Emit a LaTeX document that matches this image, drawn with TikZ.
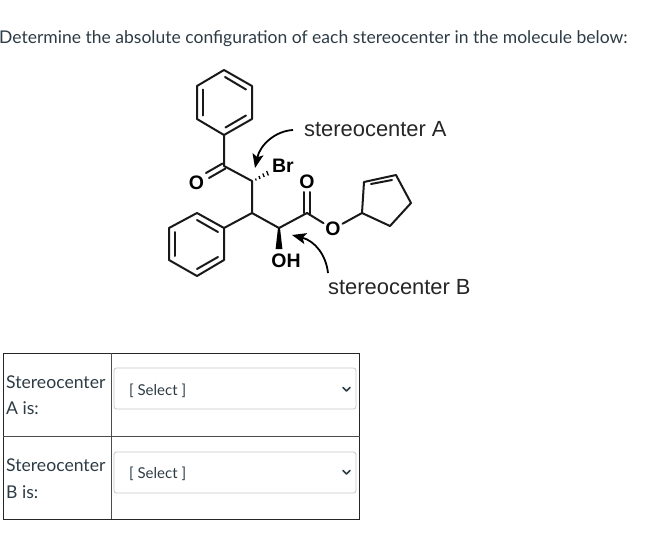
\documentclass[tikz,border=0pt]{standalone}
\usepackage{fontspec}
\setmainfont{Lato}
\newfontfamily\chemfont{Liberation Sans}
\usetikzlibrary{arrows.meta}
\definecolor{ink}{HTML}{2D3B45}
\tikzset{
  x=1pt,y=-1pt,
  bond/.style={line width=2pt,line cap=round,line join=round,black!90},
  atom/.style={font=\chemfont\bfseries\fontsize{19.5}{20}\selectfont,inner sep=0pt,black},
  lab/.style={font=\chemfont\fontsize{21.9}{24}\selectfont,inner sep=0pt,text=black!85,anchor=west},
  curved/.style={line width=1.8pt,black,-{Stealth[length=14pt,width=11pt,inset=3pt]}},
  cell/.style={draw=black!70,line width=0.8pt},
  txt/.style={font=\fontsize{17.6}{20}\selectfont,text=ink,inner sep=0pt,anchor=west},
  sel/.style={draw=black!22,line width=0.8pt,rounded corners=2.5pt},
  seltxt/.style={font=\fontsize{15}{17}\selectfont,text=ink,inner sep=0pt,anchor=west},
  chev/.style={line width=1.6pt,ink,line cap=round,line join=round}
}
\begin{document}
\begin{tikzpicture}
\useasboundingbox (0,0) rectangle (647,543);
\node[font=\fontsize{17.52}{20}\selectfont,text=ink,inner sep=0pt,anchor=west] (title) at (-1,38.5) {Determine the absolute configuration of each stereocenter in the molecule below:};
% top phenyl
\coordinate (t1) at (224,70); \coordinate (t2) at (252,86); \coordinate (t3) at (252,119);
\coordinate (t4) at (224,135); \coordinate (t5) at (197,119); \coordinate (t6) at (197,86);
\draw[bond] (t1)--(t2)--(t3)--(t4)--(t5)--(t6)--cycle;
\draw[bond] (225,77)--(246,89.5);
\draw[bond] (246,115.5)--(225.5,127.5);
\draw[bond] (203,89.5)--(203,115.5);
% chain
\coordinate (co) at (224,166); \coordinate (sa) at (252,181); \coordinate (cb) at (252,213);
\coordinate (sb) at (279,228); \coordinate (ce) at (307,213); \coordinate (cp) at (224,228);
\node[atom] (o1) at (196.5,182.5) {O};
\node[atom] (br) at (283,166) {Br};
\node[atom] (o2) at (307,182) {O};
\node[atom] (o3) at (333,229) {O};
\node[atom] (oh) at (286,261) {OH};
\draw[bond] (t4)--(co)--(sa)--(cb)--(sb)--(ce);
\draw[bond] (cb)--(cp);
\draw[bond] (222.5,163.5)--(206,173);
\draw[bond] (225.5,168.5)--(209,178);
\draw[bond] (304,192)--(304,213);
\draw[bond] (310,192)--(310,215);
\draw[bond,shorten >=2pt] (ce)--(o3);
% lower phenyl
\coordinate (b1) at (224,228); \coordinate (b2) at (197,213); \coordinate (b3) at (169,228);
\coordinate (b4) at (169,260); \coordinate (b5) at (197,276); \coordinate (b6) at (224,260);
\draw[bond] (b1)--(b2)--(b3)--(b4)--(b5)--(b6)--cycle;
\draw[bond] (197,220)--(218,232);
\draw[bond] (175,232)--(175,256);
\draw[bond] (197,269)--(218,257);
% wedges
\fill[black] (278,228) -- (280,228) -- (282.4,249) -- (275.6,249) -- cycle;
\foreach \a/\b/\c/\d in {255.5/178.5/256.2/180.5, 259/176/260/179, 262.8/173.5/264.2/177, 266.6/171/268.4/175.5}
  \draw[black,line width=1.3pt] (\a,\b)--(\c,\d);
% cyclopentene
\coordinate (p1) at (362,213); \coordinate (p2) at (364,182); \coordinate (p3) at (396,175);
\coordinate (p4) at (411,203); \coordinate (p5) at (390,226);
\draw[bond] (p1)--(p2)--(p3)--(p4)--(p5)--cycle;
\draw[bond,shorten >=2pt] (p1)--(o3);
\draw[bond] (371,184)--(392,180);
% arrows and labels
\node[lab] (la) at (304,129.5) {stereocenter A};
\node[lab] (lb) at (328,287) {stereocenter B};
\coordinate (aa) at (255,168); \coordinate (ab) at (292,235);
\coordinate (fa) at (293,130); \coordinate (fb) at (328,273);
\draw[curved] (fa) .. controls (275,131) and (260,145) .. (aa);
\draw[curved] (fb) .. controls (326,255) and (315,241) .. (ab);
% table
\draw[cell,draw=black!85] (3,353) rectangle (359.5,519);
\draw[cell] (111,353)--(111,519);
\draw[cell] (3,436)--(359.5,436);
\draw[sel] (114,368) rectangle (356,409);
\draw[sel] (114,452) rectangle (356,493);
\node[txt] (a1) at (6,382) {Stereocenter};
\node[txt] (a2) at (6,408) {A is:};
\node[txt] (b1t) at (6,465) {Stereocenter};
\node[txt] (b2t) at (6,492) {B is:};
\node[seltxt] (s1) at (129,391) {[ Select ]};
\node[seltxt] (s2) at (129,474) {[ Select ]};
\draw[chev] (343,387.5)--(346.5,391)--(350,387.5);
\draw[chev] (343,470.5)--(346.5,474)--(350,470.5);
\end{tikzpicture}
\end{document}
